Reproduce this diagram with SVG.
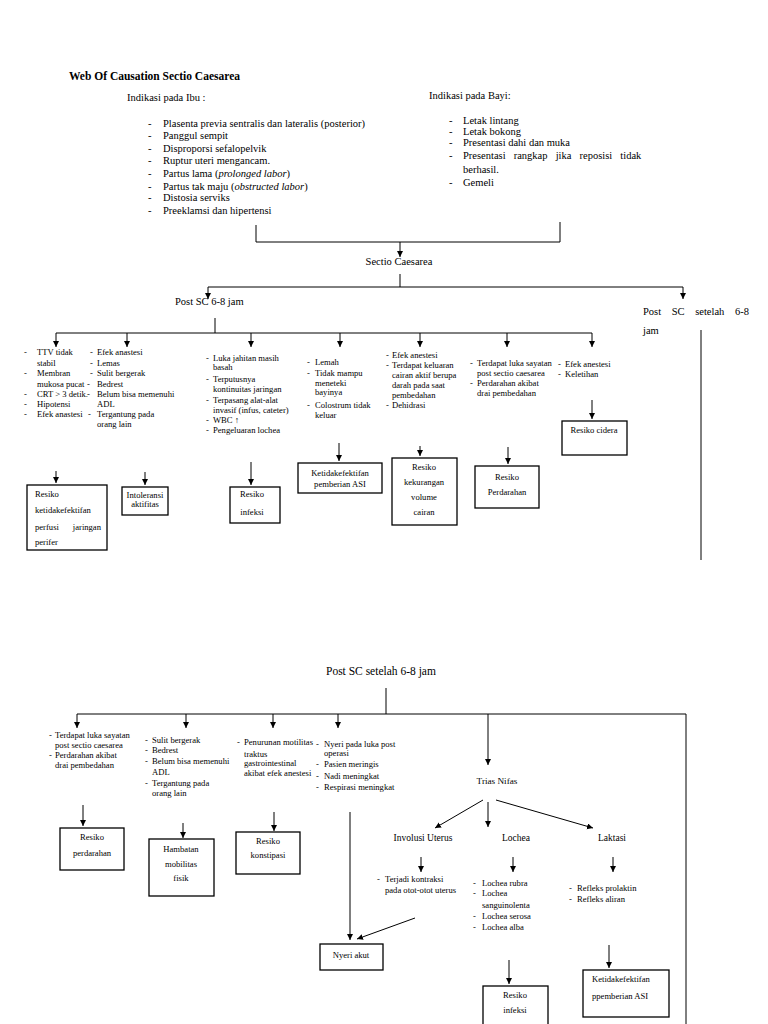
<svg xmlns="http://www.w3.org/2000/svg" width="768" height="1024" viewBox="0 0 768 1024">
<style>
text{font-family:"Liberation Serif","Times New Roman",serif;fill:#000}
.b{font-weight:bold}
.s{font-size:8.6px}
.m{font-size:10.5px}
.l{font-size:10.5px}
.c{text-anchor:middle}
.e{text-anchor:end}
.ln{stroke:#000;stroke-width:1;fill:none}
.ar{stroke:#000;stroke-width:1;fill:none;marker-end:url(#ah)}
.box{fill:#fff;stroke:#000;stroke-width:1.3}
</style>
<defs>
<marker id="ah" markerWidth="6" markerHeight="7" refX="6" refY="3" orient="auto" markerUnits="userSpaceOnUse">
<path d="M0,0 L6,3 L0,6 z" fill="#000"/>
</marker>
</defs>
<rect width="768" height="1024" fill="#fff"/>

<g id="title"><text x="69" y="80" class="b" font-size="11.5">Web Of Causation Sectio Caesarea</text></g>

<g id="indikasi-ibu" class="m">
<text x="127" y="101">Indikasi pada Ibu :</text>
<text x="148" y="127">-</text><text x="163" y="127">Plasenta previa sentralis dan lateralis (posterior)</text>
<text x="148" y="139">-</text><text x="163" y="139">Panggul sempit</text>
<text x="148" y="152">-</text><text x="163" y="152">Disproporsi sefalopelvik</text>
<text x="148" y="164">-</text><text x="163" y="164">Ruptur uteri mengancam.</text>
<text x="148" y="177">-</text><text x="163" y="177">Partus lama (<tspan font-style="italic">prolonged labor</tspan>)</text>
<text x="148" y="190">-</text><text x="163" y="190">Partus tak maju (<tspan font-style="italic">obstructed labor</tspan>)</text>
<text x="148" y="201">-</text><text x="163" y="201">Distosia serviks</text>
<text x="148" y="214">-</text><text x="163" y="214">Preeklamsi dan hipertensi</text>
</g>

<g id="indikasi-bayi" class="m">
<text x="429" y="99">Indikasi pada Bayi:</text>
<text x="449" y="124">-</text><text x="463" y="124">Letak lintang</text>
<text x="449" y="135">-</text><text x="463" y="135">Letak bokong</text>
<text x="449" y="146">-</text><text x="463" y="146">Presentasi dahi dan muka</text>
<text x="449" y="159">-</text><text x="463" y="159" word-spacing="5.5">Presentasi rangkap jika reposisi tidak</text>
<text x="463" y="173">berhasil.</text>
<text x="449" y="186">-</text><text x="463" y="186">Gemeli</text>
</g>

<g id="sectio-caesarea"><text x="399" y="265" class="l c">Sectio Caesarea</text></g>
<g id="post-sc-6-8"><text x="175" y="305" class="l">Post SC 6-8 jam</text></g>
<g id="post-sc-setelah-top" class="l">
<text x="643" y="315" word-spacing="8">Post SC setelah 6-8</text>
<text x="643" y="334">jam</text>
</g>

<g id="connectors">
<polyline class="ln" points="256,225 256,242 560,242 560,222"/>
<line class="ar" x1="400" y1="242" x2="400" y2="257"/>
<line class="ln" x1="400" y1="274" x2="400" y2="287"/>
<line class="ln" x1="208" y1="287" x2="683" y2="287"/>
<line class="ar" x1="208" y1="287" x2="208" y2="299"/>
<line class="ar" x1="683" y1="287" x2="683" y2="299"/>
<line class="ln" x1="215" y1="318" x2="215" y2="333"/>
<line class="ln" x1="56" y1="333" x2="592" y2="333"/>
<line class="ar" x1="56" y1="333" x2="56" y2="347"/>
<line class="ar" x1="127" y1="333" x2="127" y2="347"/>
<line class="ar" x1="251" y1="333" x2="251" y2="347"/>
<line class="ar" x1="340" y1="333" x2="340" y2="347"/>
<line class="ar" x1="420" y1="333" x2="420" y2="347"/>
<line class="ar" x1="507" y1="333" x2="507" y2="347"/>
<line class="ar" x1="592" y1="333" x2="592" y2="347"/>
<line class="ln" x1="701" y1="330" x2="701" y2="560" stroke="#888"/>
<line class="ar" x1="56" y1="471" x2="56" y2="483"/>
<line class="ar" x1="145" y1="472" x2="145" y2="485"/>
<line class="ar" x1="251" y1="462" x2="251" y2="485"/>
<line class="ar" x1="339" y1="443" x2="339" y2="461"/>
<line class="ar" x1="420" y1="446" x2="420" y2="456"/>
<line class="ar" x1="508" y1="447" x2="508" y2="464"/>
<line class="ar" x1="592" y1="400" x2="592" y2="419"/>

<line class="ln" x1="386" y1="688" x2="386" y2="714"/>
<line class="ln" x1="77" y1="714" x2="686" y2="714"/>
<line class="ar" x1="77" y1="714" x2="77" y2="728"/>
<line class="ar" x1="186" y1="714" x2="186" y2="728"/>
<line class="ar" x1="273" y1="714" x2="273" y2="728"/>
<line class="ar" x1="338" y1="714" x2="338" y2="728"/>
<line class="ar" x1="488" y1="714" x2="488" y2="765"/>
<line class="ln" x1="686" y1="714" x2="686" y2="1024"/>
<line class="ar" x1="83" y1="805" x2="83" y2="826"/>
<line class="ar" x1="183" y1="823" x2="183" y2="838"/>
<line class="ar" x1="274" y1="812" x2="274" y2="831"/>
<line class="ar" x1="350" y1="812" x2="350" y2="940"/>
<line class="ar" x1="483" y1="800" x2="435" y2="828"/>
<line class="ar" x1="488" y1="802" x2="488" y2="827"/>
<line class="ar" x1="496" y1="800" x2="593" y2="828"/>
<line class="ar" x1="421" y1="857" x2="421" y2="872"/>
<line class="ar" x1="513" y1="857" x2="513" y2="872"/>
<line class="ar" x1="613" y1="857" x2="613" y2="872"/>
<line class="ar" x1="415" y1="918" x2="357" y2="939"/>
<line class="ar" x1="509" y1="960" x2="509" y2="984"/>
<line class="ar" x1="609" y1="945" x2="609" y2="968"/>
</g>

<g id="list-ttv" class="s">
<text x="24" y="355">-</text><text x="37" y="355">TTV tidak</text>
<text x="37" y="366">stabil</text>
<text x="24" y="376">-</text><text x="37" y="376">Membran</text>
<text x="37" y="387">mukosa pucat</text>
<text x="24" y="397">-</text><text x="37" y="397">CRT &gt; 3 detik.</text>
<text x="24" y="407">-</text><text x="37" y="407">Hipotensi</text>
<text x="24" y="417">-</text><text x="37" y="417">Efek anastesi</text>
</g>
<g id="list-efek" class="s">
<text x="90" y="355">-</text><text x="97" y="355">Efek anastesi</text>
<text x="90" y="366">-</text><text x="97" y="366">Lemas</text>
<text x="90" y="376">-</text><text x="97" y="376">Sulit bergerak</text>
<text x="87" y="387">-</text><text x="97" y="387">Bedrest</text>
<text x="87" y="397">-</text><text x="97" y="397">Belum bisa memenuhi</text>
<text x="97" y="407">ADL</text>
<text x="88" y="417">-</text><text x="97" y="417">Tergantung pada</text>
<text x="97" y="427">orang lain</text>
</g>
<g id="list-luka" class="s">
<text x="206" y="361">-</text><text x="213" y="361">Luka jahitan masih</text>
<text x="213" y="370">basah</text>
<text x="206" y="382">-</text><text x="213" y="382">Terputusnya</text>
<text x="213" y="392">kontinuitas jaringan</text>
<text x="206" y="403">-</text><text x="213" y="403">Terpasang alat-alat</text>
<text x="213" y="413">invasif (infus, cateter)</text>
<text x="206" y="423">-</text><text x="213" y="423">WBC ↑</text>
<text x="206" y="433">-</text><text x="213" y="433">Pengeluaran lochea</text>
</g>
<g id="list-lemah" class="s">
<text x="307" y="365">-</text><text x="315" y="365">Lemah</text>
<text x="307" y="376">-</text><text x="315" y="376">Tidak mampu</text>
<text x="315" y="386">meneteki</text>
<text x="315" y="395">bayinya</text>
<text x="307" y="408">-</text><text x="315" y="408">Colostrum tidak</text>
<text x="315" y="418">keluar</text>
</g>
<g id="list-keluaran" class="s">
<text x="386" y="358">-</text><text x="392" y="358">Efek anestesi</text>
<text x="386" y="368">-</text><text x="392" y="368">Terdapat keluaran</text>
<text x="392" y="378">cairan aktif berupa</text>
<text x="392" y="388">darah pada saat</text>
<text x="392" y="398">pembedahan</text>
<text x="386" y="408">-</text><text x="392" y="408">Dehidrasi</text>
</g>
<g id="list-sayatan" class="s">
<text x="470" y="366">-</text><text x="477" y="366">Terdapat luka sayatan</text>
<text x="477" y="376">post sectio caesarea</text>
<text x="470" y="386">-</text><text x="477" y="386">Perdarahan akibat</text>
<text x="477" y="396">drai pembedahan</text>
</g>
<g id="list-keletihan" class="s">
<text x="558" y="367">-</text><text x="565" y="367">Efek anestesi</text>
<text x="558" y="377">-</text><text x="565" y="377">Keletihan</text>
</g>

<g id="box-perfusi">
<rect class="box" x="27" y="485" width="80" height="65"/>
<text class="s" x="35" y="497">Resiko</text>
<text class="s" x="35" y="513">ketidakefektifan</text>
<text class="s" x="35" y="530">perfusi</text><text class="s e" x="101" y="530">jaringan</text>
<text class="s" x="35" y="545">perifer</text>
</g>
<g id="box-intoleransi">
<rect class="box" x="122" y="487" width="46" height="28"/>
<text class="s c" x="145" y="498">Intoleransi</text>
<text class="s c" x="145" y="507">aktifitas</text>
</g>
<g id="box-infeksi-1">
<rect class="box" x="230" y="487" width="50" height="36"/>
<text class="s c" x="252" y="497">Resiko</text>
<text class="s c" x="252" y="515">infeksi</text>
</g>
<g id="box-asi-1">
<rect class="box" x="298" y="463" width="84" height="30"/>
<text class="s c" x="340" y="476">Ketidakefektifan</text>
<text class="s c" x="340" y="487">pemberian ASI</text>
</g>
<g id="box-cairan">
<rect class="box" x="392" y="458" width="65" height="67"/>
<text class="s c" x="424" y="470">Resiko</text>
<text class="s c" x="424" y="485">kekurangan</text>
<text class="s c" x="424" y="500">volume</text>
<text class="s c" x="424" y="515">cairan</text>
</g>
<g id="box-perdarahan-1">
<rect class="box" x="475" y="466" width="64" height="42"/>
<text class="s c" x="507" y="480">Resiko</text>
<text class="s c" x="507" y="495">Perdarahan</text>
</g>
<g id="box-cidera">
<rect class="box" x="562" y="421" width="65" height="34"/>
<text class="s c" x="594" y="433">Resiko cidera</text>
</g>

<g id="post-sc-setelah-bottom"><text x="326" y="675" font-size="11.5">Post SC setelah 6-8 jam</text></g>

<g id="list-b-sayatan" class="s">
<text x="49" y="738">-</text><text x="55" y="738">Terdapat luka sayatan</text>
<text x="55" y="748">post sectio caesarea</text>
<text x="49" y="758">-</text><text x="55" y="758">Perdarahan akibat</text>
<text x="55" y="768">drai pembedahan</text>
</g>
<g id="list-b-sulit" class="s">
<text x="145" y="743">-</text><text x="152" y="743">Sulit bergerak</text>
<text x="145" y="753">-</text><text x="152" y="753">Bedrest</text>
<text x="145" y="764">-</text><text x="152" y="764">Belum bisa memenuhi</text>
<text x="152" y="775">ADL</text>
<text x="145" y="786">-</text><text x="152" y="786">Tergantung pada</text>
<text x="152" y="796">orang lain</text>
</g>
<g id="list-b-motilitas" class="s">
<text x="237" y="745">-</text><text x="244" y="745">Penurunan motilitas</text>
<text x="244" y="757">traktus</text>
<text x="244" y="766">gastrointestinal</text>
<text x="244" y="776">akibat efek anestesi</text>
</g>
<g id="list-b-nyeri" class="s">
<text x="316" y="747">-</text><text x="324" y="747">Nyeri pada luka post</text>
<text x="324" y="756">operasi</text>
<text x="316" y="767">-</text><text x="324" y="767">Pasien meringis</text>
<text x="316" y="779">-</text><text x="324" y="779">Nadi meningkat</text>
<text x="316" y="790">-</text><text x="324" y="790">Respirasi meningkat</text>
</g>

<g id="trias-nifas"><text x="497" y="784" class="c" font-size="9.2">Trias Nifas</text></g>
<g id="involusi-uterus"><text x="423" y="841" class="c" font-size="9.5">Involusi Uterus</text></g>
<g id="lochea"><text x="516" y="841" class="c" font-size="9.5">Lochea</text></g>
<g id="laktasi"><text x="612" y="841" class="c" font-size="9.5">Laktasi</text></g>

<g id="list-involusi" class="s">
<text x="377" y="882">-</text><text x="385" y="882">Terjadi kontraksi</text>
<text x="385" y="893">pada otot-otot uterus</text>
</g>
<g id="list-lochea" class="s">
<text x="473" y="886">-</text><text x="482" y="886">Lochea rubra</text>
<text x="473" y="896">-</text><text x="482" y="896">Lochea</text>
<text x="482" y="908">sanguinolenta</text>
<text x="473" y="919">-</text><text x="482" y="919">Lochea serosa</text>
<text x="473" y="930">-</text><text x="482" y="930">Lochea alba</text>
</g>
<g id="list-laktasi" class="s">
<text x="569" y="891">-</text><text x="577" y="891">Refleks prolaktin</text>
<text x="569" y="902">-</text><text x="577" y="902">Refleks aliran</text>
</g>

<g id="box-perdarahan-2">
<rect class="box" x="60" y="828" width="64" height="42"/>
<text class="s c" x="92" y="840">Resiko</text>
<text class="s c" x="92" y="856">perdarahan</text>
</g>
<g id="box-mobilitas">
<rect class="box" x="149" y="839" width="65" height="57"/>
<text class="s c" x="181" y="852">Hambatan</text>
<text class="s c" x="181" y="867">mobilitas</text>
<text class="s c" x="181" y="881">fisik</text>
</g>
<g id="box-konstipasi">
<rect class="box" x="236" y="832" width="64" height="42"/>
<text class="s c" x="268" y="844">Resiko</text>
<text class="s c" x="268" y="858">konstipasi</text>
</g>
<g id="box-nyeri-akut">
<rect class="box" x="320" y="944" width="63" height="26"/>
<text class="s c" x="351" y="958">Nyeri akut</text>
</g>
<g id="box-infeksi-2">
<rect class="box" x="483" y="986" width="65" height="46"/>
<text class="s c" x="515" y="998">Resiko</text>
<text class="s c" x="515" y="1013">infeksi</text>
</g>
<g id="box-asi-2">
<rect class="box" x="583" y="970" width="86" height="47"/>
<text class="s" x="592" y="982">Ketidakefektifan</text>
<text class="s" x="592" y="999">ppemberian ASI</text>
</g>
</svg>
